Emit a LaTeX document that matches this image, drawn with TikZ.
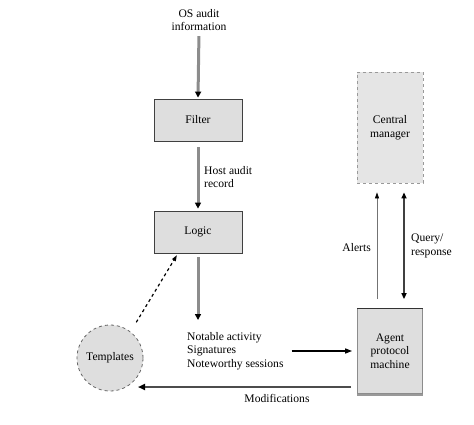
\documentclass[tikz,border=0pt]{standalone}
\usepackage{fontspec}
\setmainfont{Liberation Serif}
\usetikzlibrary{arrows.meta}
\begin{document}
\begin{tikzpicture}[x=1pt,y=-1pt,
  every node/.style={font=\fontsize{11.6}{13.5}\selectfont, inner sep=0pt},
  procbox/.style={draw=black!75, line width=0.8pt, fill=black!13, minimum width=88pt, minimum height=42pt},
  flowarrow/.style={draw=black!45, line width=3pt, -{Triangle[black,length=6pt,width=6pt]}},
  thinarrow/.style={draw=black!55, line width=0.8pt, -{Triangle[black,length=6pt,width=4pt]}},
  lbl/.style={align=left}
]
\useasboundingbox (0,0) rectangle (474,424);
% nodes
\node[align=center] (os) at (199,20) {OS audit\\information};
\node[procbox] (filter) at (198,120) {Filter};
\node[procbox] (logic) at (198,232) {Logic};
\node[lbl, anchor=west] (notable) at (187,351) {Notable activity\\Signatures\\Noteworthy sessions};
\node[draw=black!60, dashed, line width=0.8pt, fill=black!13, circle, minimum size=66pt] (templates) at (110,358) {Templates};
\node[draw=black!45, line width=0.8pt, fill=black!13, minimum width=65pt, minimum height=85pt, align=center] (agent) at (390,351) {Agent\\protocol\\machine};
\node[draw=black!40, dashed, line width=0.8pt, fill=black!10, minimum width=66pt, minimum height=111pt, align=center] (central) at (390,127.5) {Central\\manager};
% extra edges on agent box
\draw[black!80, line width=1pt] (agent.north west) -- (agent.north east);
\draw[black!40, line width=2pt] ([yshift=-1pt]agent.south west) -- ([yshift=-1pt]agent.south east);
% labels
\node[lbl, anchor=west] (hostlbl) at (204,177) {Host audit\\record};
\node[anchor=east] (alertslbl) at (371,248) {Alerts};
\node[lbl, anchor=west] (querylbl) at (411,246) {Query/\\response};
\node (modlbl) at (277,398) {Modifications};
\coordinate (modstart) at (351,387);
\coordinate (modend) at (138,387);
% connectors
\draw[flowarrow, shorten <=5pt, shorten >=1pt] (os.south) -- (filter.north);
\draw[flowarrow, shorten <=6pt, shorten >=2pt] (filter.south) -- (logic.north);
\draw[flowarrow, shorten <=4pt, shorten >=12pt] (logic.south) -- (logic.south |- notable.north);
\draw[black, line width=1.4pt, -{Triangle[length=7pt,width=5pt]}, shorten <=8pt, shorten >=5pt] (notable.east) -- (agent.west);
\draw[black!70, line width=2pt, -{Triangle[black,length=7pt,width=6pt]}] (modstart) -- (modend);
\draw[black, line width=1.2pt, dashed, -{Triangle[length=6pt,width=4pt]}, shorten <=11pt, shorten >=2pt] (templates.52) -- ([xshift=-20pt]logic.south);
\draw[thinarrow, shorten <=9pt, shorten >=9pt] ([xshift=-13pt]agent.north) -- ([xshift=-13pt]central.south);
\draw[black!75, line width=1.8pt, {Triangle[black,length=6pt,width=5pt]}-{Triangle[black,length=6pt,width=5pt]}, shorten <=9pt, shorten >=9pt] ([xshift=14pt]central.south) -- ([xshift=14pt]agent.north);
\end{tikzpicture}
\end{document}
